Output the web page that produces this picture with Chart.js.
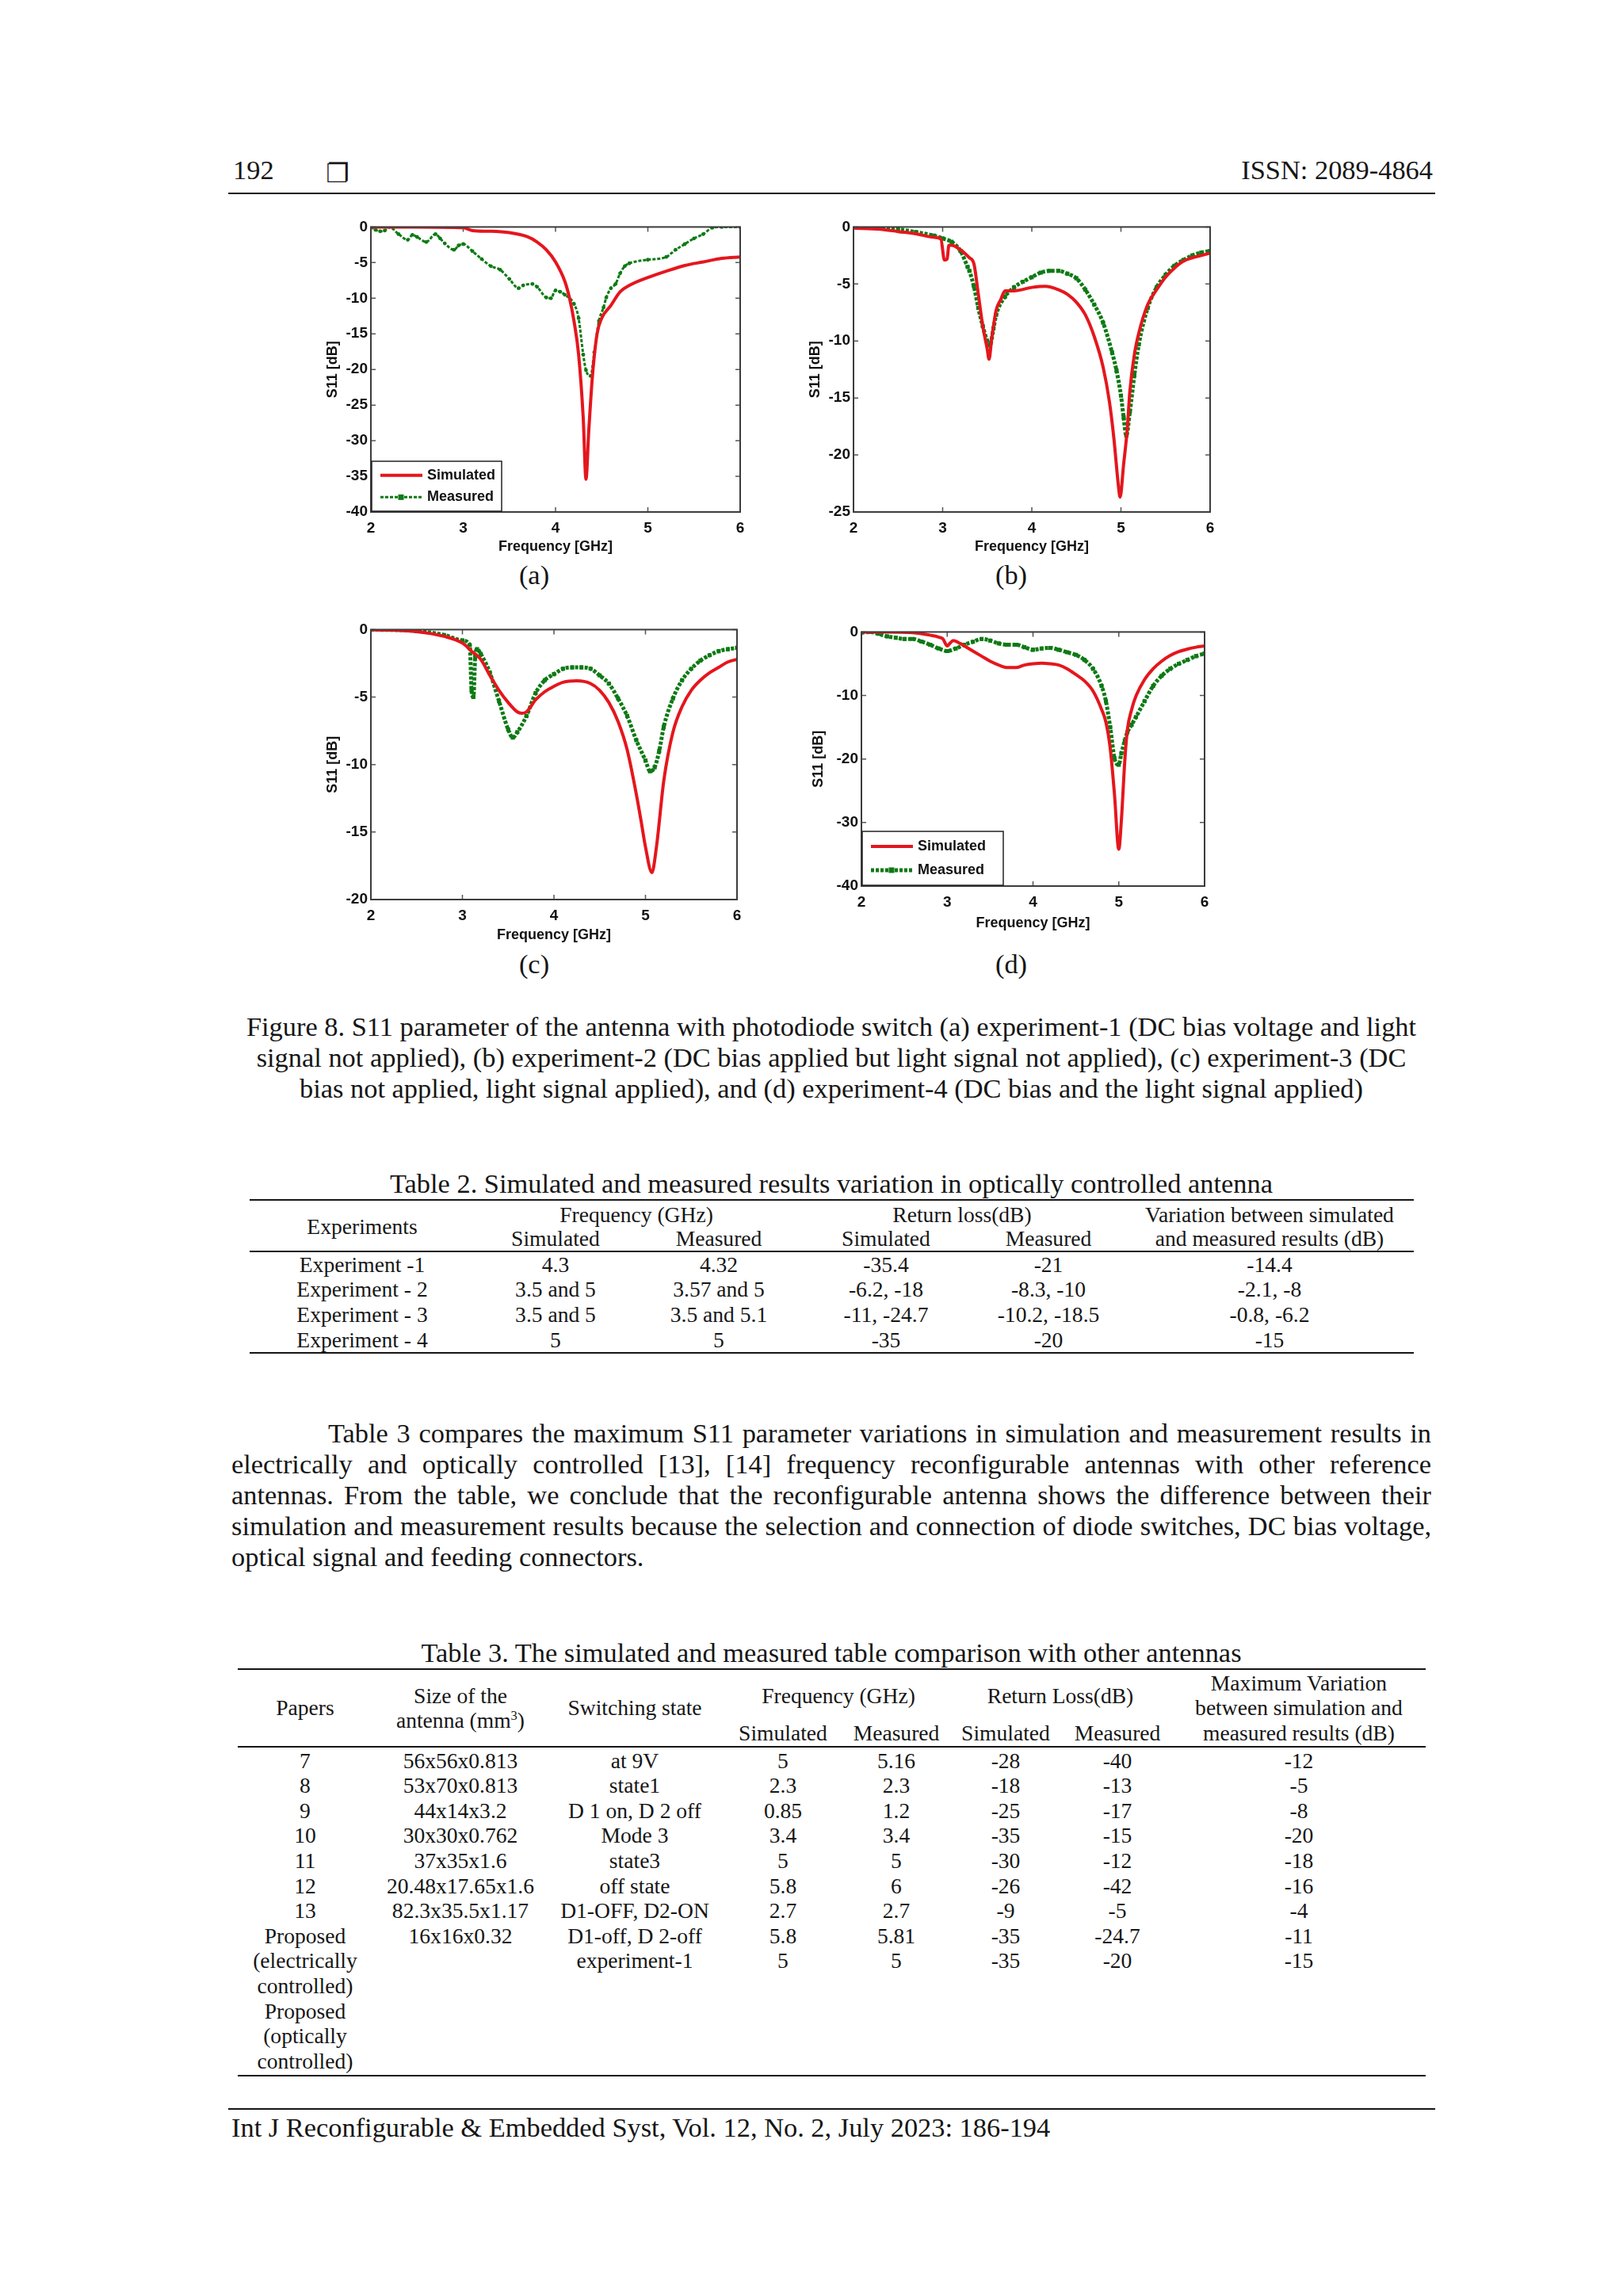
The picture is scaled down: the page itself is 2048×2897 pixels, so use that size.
<!DOCTYPE html>
<html>
<head>
<meta charset="utf-8">
<script src="https://cdn.jsdelivr.net/npm/chart.js@4.4.0/dist/chart.umd.min.js"></script>
<style>
body{margin:0;background:#fff;}
#page{position:relative;width:2048px;height:2897px;overflow:hidden;font-family:"Liberation Serif","Times New Roman",serif;color:#161616;}
.t{position:absolute;white-space:nowrap;}
.rule{position:absolute;background:#151515;}
canvas{position:absolute;}
</style>
</head>
<body>
<div id="page"></div>
<script>
// ---------- chart data: frequency [GHz] and S11 [dB] ----------
const xRange = [2, 6];

// (a) experiment-1
const freqSimA = [2.0,2.5,3.0,3.1,3.3,3.5,3.7,3.8,3.9,4.0,4.1,4.15,4.2,4.25,4.3,4.33,4.36,4.4,4.45,4.5,4.6,4.7,4.8,5.0,5.2,5.4,5.6,5.8,6.0];
const s11SimA  = [0,0,-0.1,-0.5,-0.6,-0.8,-1.4,-2.1,-3.2,-4.9,-7.6,-9.9,-13.2,-17.9,-26.8,-35.4,-28.6,-20.9,-15,-12.8,-11,-9.1,-8.2,-7.1,-6.2,-5.4,-4.9,-4.4,-4.2];
const freqMeasA = [2.0,2.05,2.1,2.15,2.2,2.3,2.4,2.45,2.5,2.6,2.7,2.75,2.8,2.9,2.95,3.0,3.1,3.2,3.3,3.4,3.5,3.6,3.65,3.75,3.8,3.9,3.95,4.0,4.05,4.1,4.2,4.25,4.3,4.33,4.38,4.42,4.47,4.52,4.55,4.6,4.65,4.7,4.75,4.8,5.0,5.2,5.3,5.4,5.5,5.6,5.7,5.8,6.0];
const s11MeasA  = [0,-0.4,-0.6,-0.5,0,-1.0,-1.8,-1.1,-1.4,-2.1,-1.0,-1.6,-2.3,-3.2,-2.6,-2.4,-3.4,-4.5,-5.5,-6.0,-7.3,-8.6,-8.2,-8.0,-8.4,-9.9,-10.0,-8.9,-9.1,-9.5,-10.8,-12.8,-17.9,-20.1,-20.9,-17.6,-13.2,-11.3,-9.9,-8.6,-8.0,-6.5,-5.5,-5.1,-4.6,-4.2,-3.2,-2.4,-1.6,-1.0,-0.1,0,0];
const yRangeA = [-40, 0];

// (b) experiment-2
const freqSimB = [2.0,2.3,2.5,2.7,2.9,2.98,3.02,3.05,3.07,3.1,3.2,3.3,3.35,3.4,3.45,3.5,3.52,3.55,3.6,3.65,3.7,3.8,4.0,4.15,4.3,4.4,4.5,4.6,4.7,4.8,4.87,4.92,4.97,4.99,5.03,5.07,5.1,5.15,5.2,5.3,5.4,5.5,5.6,5.7,5.8,5.9,6.0];
const s11SimB  = [-0.1,-0.2,-0.4,-0.6,-0.9,-1.05,-2.9,-2.8,-1.6,-1.6,-2.0,-2.7,-3.2,-5.9,-8.7,-10.7,-11.6,-9.8,-7.3,-6.4,-5.6,-5.6,-5.3,-5.2,-5.5,-5.9,-6.6,-7.7,-9.6,-12.3,-15.3,-18.5,-22.6,-23.7,-20.8,-17.8,-14.4,-11.2,-9.3,-6.8,-5.5,-4.4,-3.6,-3.0,-2.7,-2.5,-2.3];
const freqMeasB = [2.0,2.3,2.5,2.7,2.9,3.0,3.1,3.2,3.28,3.3,3.35,3.4,3.45,3.5,3.53,3.57,3.6,3.7,3.8,3.9,4.0,4.1,4.2,4.3,4.4,4.5,4.6,4.7,4.8,4.9,4.95,5.0,5.03,5.06,5.1,5.15,5.2,5.3,5.4,5.5,5.6,5.7,5.8,5.9,6.0];
const s11MeasB  = [0,-0.1,-0.2,-0.45,-0.75,-1.0,-1.3,-2.1,-3.5,-3.85,-5.2,-7.1,-8.7,-10.0,-10.4,-8.9,-7.7,-6.1,-5.3,-4.8,-4.4,-4.0,-3.85,-3.85,-4.1,-4.5,-5.5,-6.8,-8.4,-11.0,-12.6,-14.8,-16.7,-18.3,-16.2,-13.0,-10.3,-7.1,-5.3,-4.2,-3.4,-2.9,-2.5,-2.25,-2.1];
const yRangeB = [-25, 0];

// (c) experiment-3
const freqSimC = [2.0,2.5,2.8,3.0,3.1,3.2,3.3,3.4,3.5,3.6,3.65,3.7,3.8,3.9,4.0,4.1,4.25,4.4,4.5,4.6,4.7,4.8,4.9,4.95,5.0,5.07,5.12,5.2,5.3,5.4,5.5,5.6,5.7,5.8,5.9,6.0];
const s11SimC  = [0,-0.15,-0.5,-1.0,-1.6,-2.2,-3.4,-4.5,-5.4,-6.1,-6.2,-6.1,-5.2,-4.6,-4.2,-3.9,-3.8,-4.0,-4.5,-5.4,-6.8,-8.9,-12.2,-14.1,-16.1,-18.0,-16.1,-11.2,-7.6,-5.7,-4.5,-3.75,-3.2,-2.8,-2.4,-2.2];
const freqMeasC = [2.0,2.5,2.8,3.0,3.08,3.1,3.12,3.14,3.16,3.2,3.3,3.4,3.5,3.55,3.6,3.7,3.8,3.9,4.0,4.1,4.2,4.3,4.4,4.5,4.6,4.7,4.8,4.9,5.0,5.05,5.1,5.15,5.2,5.3,5.4,5.5,5.6,5.7,5.8,5.9,6.0];
const s11MeasC  = [0,-0.1,-0.4,-0.8,-1.15,-4.5,-5.0,-2.0,-1.45,-1.8,-3.2,-5.3,-7.4,-8.0,-7.6,-6.4,-4.7,-3.75,-3.3,-2.9,-2.8,-2.8,-2.9,-3.4,-4.0,-5.1,-6.4,-8.2,-9.7,-10.5,-10.2,-9.0,-7.2,-5.1,-3.75,-2.9,-2.3,-1.9,-1.6,-1.45,-1.35];
const yRangeC = [-20, 0];

// (d) experiment-4
const freqSimD = [2.0,2.3,2.6,2.8,2.9,2.95,3.0,3.03,3.07,3.15,3.2,3.3,3.4,3.5,3.6,3.7,3.8,3.9,4.0,4.1,4.2,4.3,4.4,4.5,4.6,4.7,4.8,4.85,4.9,4.95,5.0,5.03,5.07,5.1,5.15,5.2,5.3,5.4,5.5,5.6,5.7,5.8,5.9,6.0];
const s11SimD  = [0,0,-0.1,-0.5,-0.8,-1.1,-2.2,-1.8,-1.35,-1.8,-2.2,-3.0,-3.8,-4.6,-5.2,-5.6,-5.6,-5.2,-5.0,-4.9,-5.0,-5.2,-5.8,-6.7,-7.7,-9.3,-12.2,-14.2,-18.3,-25.6,-34.2,-29.7,-20.3,-15.4,-12.2,-10.1,-7.5,-5.8,-4.6,-3.7,-3.1,-2.7,-2.4,-2.2];
const freqMeasD = [2.0,2.1,2.2,2.3,2.4,2.5,2.6,2.7,2.8,2.9,3.0,3.1,3.2,3.3,3.4,3.5,3.6,3.7,3.8,3.9,4.0,4.1,4.2,4.3,4.4,4.5,4.6,4.7,4.8,4.85,4.9,4.95,5.0,5.03,5.07,5.1,5.15,5.2,5.3,5.4,5.5,5.6,5.7,5.8,5.9,6.0];
const s11MeasD  = [-0.1,0,-0.3,-0.7,-0.9,-1.1,-1.1,-1.5,-2.0,-2.6,-3.0,-2.6,-2.0,-1.55,-1.1,-1.35,-1.8,-2.0,-2.0,-2.4,-2.8,-2.6,-2.5,-2.8,-3.2,-3.6,-4.4,-5.8,-8.5,-10.9,-15.0,-19.9,-20.9,-19.1,-17.1,-15.8,-14.6,-13.4,-10.9,-8.5,-6.9,-5.8,-5.0,-4.4,-3.8,-3.4];
const yRangeD = [-40, 0];

const seriesLabels = ['Simulated', 'Measured'];

// ---------- tables ----------
const table2Rows = [
  ['Experiment -1', '4.3', '4.32', '-35.4', '-21', '-14.4'],
  ['Experiment - 2', '3.5 and 5', '3.57 and 5', '-6.2, -18', '-8.3, -10', '-2.1, -8'],
  ['Experiment - 3', '3.5 and 5', '3.5 and 5.1', '-11, -24.7', '-10.2, -18.5', '-0.8, -6.2'],
  ['Experiment - 4', '5', '5', '-35', '-20', '-15']
];
const table3Papers = ['7','8','9','10','11','12','13','Proposed','(electrically','controlled)','Proposed','(optically','controlled)'];
const table3Rows = [
  ['56x56x0.813', 'at 9V', '5', '5.16', '-28', '-40', '-12'],
  ['53x70x0.813', 'state1', '2.3', '2.3', '-18', '-13', '-5'],
  ['44x14x3.2', 'D 1 on, D 2 off', '0.85', '1.2', '-25', '-17', '-8'],
  ['30x30x0.762', 'Mode 3', '3.4', '3.4', '-35', '-15', '-20'],
  ['37x35x1.6', 'state3', '5', '5', '-30', '-12', '-18'],
  ['20.48x17.65x1.6', 'off state', '5.8', '6', '-26', '-42', '-16'],
  ['82.3x35.5x1.17', 'D1-OFF, D2-ON', '2.7', '2.7', '-9', '-5', '-4'],
  ['16x16x0.32', 'D1-off, D 2-off', '5.8', '5.81', '-35', '-24.7', '-11'],
  ['', 'experiment-1', '5', '5', '-35', '-20', '-15']
];

const page = document.getElementById('page');
const SERIF = '"Liberation Serif", "Times New Roman", serif';
const SANS = '"Liberation Sans", Arial, sans-serif';
const TEXT_SHIFT = -2;   // text boxes sit a little low otherwise

// font size that makes a sample line a given width
const mctx = document.createElement('canvas').getContext('2d');
function fitSize(str, target) {
  mctx.font = '100px ' + SERIF;
  return 100 * target / mctx.measureText(str).width;
}
const capLine1 = 'Figure 8. S11 parameter of the antenna with photodiode switch (a) experiment-1 (DC bias voltage and light';
const bodySize = fitSize(capLine1, 1477);
const cellSize = fitSize('Variation between simulated', 314);

function put(html, x, cy, align, size, family, weight) {
  const d = document.createElement('div');
  d.className = 't';
  d.innerHTML = html;
  const lh = Math.round(size * 1.2);
  d.style.fontSize = size + 'px';
  d.style.lineHeight = lh + 'px';
  d.style.top = (cy - lh / 2 + TEXT_SHIFT) + 'px';
  if (family) d.style.fontFamily = family;
  if (weight) d.style.fontWeight = weight;
  if (align === 'c') { d.style.left = x + 'px'; d.style.transform = 'translateX(-50%)'; }
  else if (align === 'r') { d.style.right = (2048 - x) + 'px'; }
  else d.style.left = x + 'px';
  page.appendChild(d);
}
function putJust(str, x, w, cy, size) {
  const d = document.createElement('div');
  d.className = 't';
  d.textContent = str;
  const lh = Math.round(size * 1.2);
  d.style.cssText += 'white-space:normal;text-align:justify;text-align-last:justify;';
  d.style.fontSize = size + 'px';
  d.style.lineHeight = lh + 'px';
  d.style.top = (cy - lh / 2 + TEXT_SHIFT) + 'px';
  d.style.left = x + 'px';
  d.style.width = w + 'px';
  d.style.height = lh + 'px';
  d.style.overflow = 'hidden';
  page.appendChild(d);
}
function rule(x1, x2, y, th) {
  const d = document.createElement('div');
  d.className = 'rule';
  d.style.left = x1 + 'px';
  d.style.width = (x2 - x1) + 'px';
  d.style.top = (y - th / 2) + 'px';
  d.style.height = th + 'px';
  page.appendChild(d);
}

// ---------- page header / footer ----------
put('192', 294, 216, 'l', bodySize);
put('\u2750', 426, 221, 'c', bodySize * 0.95, '"DejaVu Sans", sans-serif', 'bold');
put('ISSN: 2089-4864', 1808, 216, 'r', bodySize);
rule(288, 1811, 244, 2);
rule(288, 1811, 2661, 2);
put('Int J Reconfigurable &amp; Embedded Syst, Vol. 12, No. 2, July 2023: 186-194', 292, 2686, 'l', bodySize);

// ---------- figure sub-labels and caption ----------
put('(a)', 674, 727, 'c', bodySize);
put('(b)', 1276, 727, 'c', bodySize);
put('(c)', 674, 1218, 'c', bodySize);
put('(d)', 1276, 1218, 'c', bodySize);
put(capLine1, 1049, 1297, 'c', bodySize);
put('signal not applied), (b) experiment-2 (DC bias applied but light signal not applied), (c) experiment-3 (DC', 1049, 1336, 'c', bodySize);
put('bias not applied, light signal applied), and (d) experiment-4 (DC bias and the light signal applied)', 1049, 1375, 'c', bodySize);

// ---------- Table 2 ----------
put('Table 2. Simulated and measured results variation in optically controlled antenna', 1049, 1495, 'c', bodySize);
rule(315, 1784, 1514, 2.5);
rule(315, 1784, 1579, 2.5);
rule(315, 1784, 1707, 2.5);
const t2Cols = [457, 701, 907, 1118, 1323, 1602];
put('Experiments', t2Cols[0], 1549, 'c', cellSize);
put('Frequency (GHz)', 803, 1534, 'c', cellSize);
put('Return loss(dB)', 1214, 1534, 'c', cellSize);
put('Variation between simulated', t2Cols[5], 1534, 'c', cellSize);
put('Simulated', t2Cols[1], 1564, 'c', cellSize);
put('Measured', t2Cols[2], 1564, 'c', cellSize);
put('Simulated', t2Cols[3], 1564, 'c', cellSize);
put('Measured', t2Cols[4], 1564, 'c', cellSize);
put('and measured results (dB)', t2Cols[5], 1564, 'c', cellSize);
table2Rows.forEach((row, i) => {
  row.forEach((cell, j) => put(cell, t2Cols[j], 1597 + i * 31.7, 'c', cellSize));
});

// ---------- paragraph ----------
const paraLines = [
  'Table 3 compares the maximum S11 parameter variations in simulation and measurement results in',
  'electrically and optically controlled [13], [14] frequency reconfigurable antennas with other reference',
  'antennas. From the table, we conclude that the reconfigurable antenna shows the difference between their',
  'simulation and measurement results because the selection and connection of diode switches, DC bias voltage,',
  'optical signal and feeding connectors.'
];
paraLines.forEach((ln, i) => {
  const cy = 1810 + i * 39;
  if (i === 0) putJust(ln, 414, 1806 - 414, cy, bodySize);
  else if (i < paraLines.length - 1) putJust(ln, 292, 1806 - 292, cy, bodySize);
  else put(ln, 292, cy, 'l', bodySize);
});

// ---------- Table 3 ----------
put('Table 3. The simulated and measured table comparison with other antennas', 1049, 2087, 'c', bodySize);
rule(300, 1799, 2106, 2.5);
rule(300, 1799, 2204, 2.5);
rule(300, 1799, 2619, 2.5);
const t3Cols = [385, 581, 801, 988, 1131, 1269, 1410, 1639];
put('Papers', t3Cols[0], 2156, 'c', cellSize);
put('Size of the', t3Cols[1], 2141, 'c', cellSize);
put('antenna (mm<sup style="font-size:60%;line-height:0">3</sup>)', t3Cols[1], 2172, 'c', cellSize);
put('Switching state', t3Cols[2], 2156, 'c', cellSize);
put('Frequency (GHz)', 1058, 2141, 'c', cellSize);
put('Return Loss(dB)', 1338, 2141, 'c', cellSize);
put('Simulated', t3Cols[3], 2188, 'c', cellSize);
put('Measured', t3Cols[4], 2188, 'c', cellSize);
put('Simulated', t3Cols[5], 2188, 'c', cellSize);
put('Measured', t3Cols[6], 2188, 'c', cellSize);
put('Maximum Variation', t3Cols[7], 2125, 'c', cellSize);
put('between simulation and', t3Cols[7], 2156, 'c', cellSize);
put('measured results (dB)', t3Cols[7], 2188, 'c', cellSize);
table3Papers.forEach((p, i) => put(p, t3Cols[0], 2223 + i * 31.6, 'c', cellSize));
table3Rows.forEach((row, i) => {
  row.forEach((cell, j) => { if (cell) put(cell, t3Cols[j + 1], 2223 + i * 31.6, 'c', cellSize); });
});

// ---------- Chart.js plots ----------
function pairs(xs, ys) { return xs.map((x, i) => ({x: x, y: ys[i]})); }

// matlab-like box with inward ticks, drawn from the scales
const framePlugin = {
  id: 'frame',
  afterDatasetsDraw(chart) {
    const {ctx, chartArea: a, scales} = chart;
    const x = scales.x, y = scales.y;
    ctx.save();
    ctx.strokeStyle = '#555';
    ctx.lineWidth = 1.5;
    ctx.beginPath();
    x.ticks.forEach(t => {
      const px = x.getPixelForValue(t.value);
      ctx.moveTo(px, a.bottom); ctx.lineTo(px, a.bottom - 6);
      ctx.moveTo(px, a.top); ctx.lineTo(px, a.top + 6);
    });
    y.ticks.forEach(t => {
      const py = y.getPixelForValue(t.value);
      ctx.moveTo(a.left, py); ctx.lineTo(a.left + 6, py);
      ctx.moveTo(a.right, py); ctx.lineTo(a.right - 6, py);
    });
    ctx.stroke();
    ctx.strokeStyle = '#3c3c3c';
    ctx.lineWidth = 2;
    ctx.strokeRect(a.left, a.top, a.right - a.left, a.bottom - a.top);
    ctx.restore();
  }
};

// legend box in the lower-left corner of the plot
const boxLegendPlugin = {
  id: 'boxLegend',
  afterDraw(chart, args, opts) {
    const {ctx, chartArea: a} = chart;
    const w = opts.w, h = opts.h;
    const bx = a.left + 1, by = a.bottom - h - 1;
    ctx.save();
    ctx.fillStyle = '#fff';
    ctx.fillRect(bx, by, w, h);
    ctx.strokeStyle = '#222';
    ctx.lineWidth = 1.5;
    ctx.strokeRect(bx, by, w, h);
    chart.data.datasets.forEach((ds, i) => {
      const cy = by + h * (i === 0 ? 0.28 : 0.72);
      ctx.strokeStyle = ds.borderColor;
      ctx.lineWidth = ds.borderWidth;
      ctx.setLineDash(ds.borderDash || []);
      ctx.beginPath();
      ctx.moveTo(bx + 11, cy);
      ctx.lineTo(bx + 64, cy);
      ctx.stroke();
      ctx.setLineDash([]);
      if (ds.pointRadius) {
        ctx.fillStyle = ds.borderColor;
        ctx.fillRect(bx + 37 - 3.5, cy - 3.5, 7, 7);
      }
      ctx.fillStyle = '#111';
      ctx.font = 'bold 18px ' + SANS;
      ctx.textBaseline = 'middle';
      ctx.fillText(ds.label, bx + 70, cy);
    });
    ctx.restore();
  }
};

const tickFont = {family: SANS, size: 19, weight: 'bold'};
const titleFont = {family: SANS, size: 18, weight: 'bold'};

function makeChart(box, yW, xH, yRange, yStep, sim, meas, legend, green) {
  const padTop = 12, padRight = 22;
  const w = box.r - box.l + yW + padRight;
  const h = box.b - box.t + padTop + xH;
  const cv = document.createElement('canvas');
  cv.width = w; cv.height = h;
  cv.style.left = (box.l - yW) + 'px';
  cv.style.top = (box.t - padTop) + 'px';
  cv.style.width = w + 'px';
  cv.style.height = h + 'px';
  page.appendChild(cv);
  return new Chart(cv, {
    type: 'line',
    data: {
      datasets: [{
        label: seriesLabels[0],
        data: sim,
        borderColor: '#e5161d',
        borderWidth: 4,
        pointRadius: 0,
        cubicInterpolationMode: 'monotone'
      }, {
        label: seriesLabels[1],
        data: meas,
        borderColor: '#0d7a14',
        backgroundColor: '#0d7a14',
        borderWidth: green.width,
        borderDash: [4, 2],
        pointStyle: green.style,
        pointRadius: green.radius,
        pointBorderWidth: 0,
        cubicInterpolationMode: 'monotone'
      }]
    },
    options: {
      responsive: false,
      animation: false,
      devicePixelRatio: 1,
      layout: {padding: {top: padTop, right: padRight, left: 0, bottom: 0}},
      plugins: {
        legend: {display: false},
        tooltip: {enabled: false},
        boxLegend: legend
      },
      scales: {
        x: {
          type: 'linear', min: xRange[0], max: xRange[1],
          afterFit: s => { s.height = xH; },
          grid: {display: false, drawTicks: false},
          border: {display: false},
          ticks: {stepSize: 1, padding: 9, color: '#111', font: tickFont},
          title: {display: true, text: 'Frequency [GHz]', padding: 0, color: '#111', font: titleFont}
        },
        y: {
          type: 'linear', min: yRange[0], max: yRange[1],
          afterFit: s => { s.width = yW; },
          grid: {display: false, drawTicks: false},
          border: {display: false},
          ticks: {stepSize: yStep, padding: 4, color: '#111', font: tickFont},
          title: {display: true, text: 'S11 [dB]', padding: 0, color: '#111', font: titleFont}
        }
      }
    },
    plugins: [framePlugin, boxLegendPlugin]
  });
}

makeChart({l: 468, t: 283, r: 934, b: 646}, 59, 55, yRangeA, 5,
  pairs(freqSimA, s11SimA), pairs(freqMeasA, s11MeasA), {w: 164, h: 63},
  {width: 3, radius: 2.4, style: 'circle'});
makeChart({l: 1077, t: 283, r: 1527, b: 646}, 59, 55, yRangeB, 5,
  pairs(freqSimB, s11SimB), pairs(freqMeasB, s11MeasB), false,
  {width: 5, radius: 3.6, style: 'rect'});
makeChart({l: 468, t: 791, r: 930, b: 1135}, 59, 56, yRangeC, 5,
  pairs(freqSimC, s11SimC), pairs(freqMeasC, s11MeasC), false,
  {width: 5, radius: 3.6, style: 'rect'});
makeChart({l: 1087, t: 794, r: 1520, b: 1118}, 65, 58, yRangeD, 10,
  pairs(freqSimD, s11SimD), pairs(freqMeasD, s11MeasD), {w: 178, h: 68},
  {width: 5, radius: 3.6, style: 'rect'});
</script>
</body>
</html>
